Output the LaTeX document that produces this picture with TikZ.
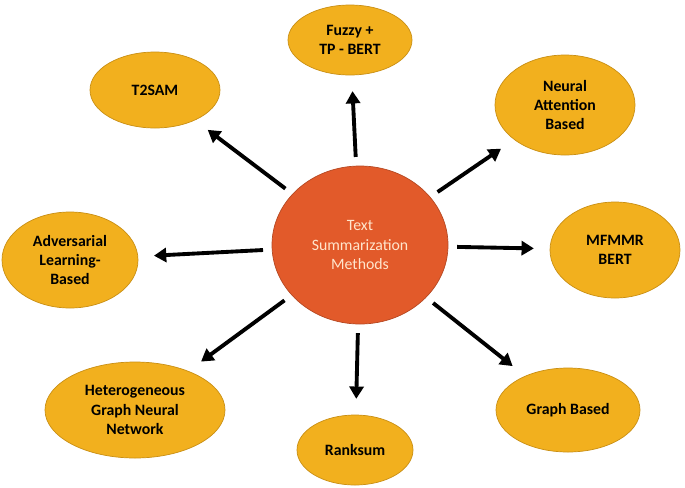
\documentclass[tikz,border=0pt]{standalone}
\usepackage{fontspec}
\setmainfont{Carlito}
\usetikzlibrary{shapes.geometric, arrows.meta}
\definecolor{gold}{HTML}{F2B01E}
\definecolor{goldline}{HTML}{C98F14}
\definecolor{redorange}{HTML}{E25A2A}
\begin{document}
\begin{tikzpicture}[x = 0.02cm, y = -0.02cm, > = {Triangle[length = 7pt, width = 8pt]},
	method/.style = {ellipse, draw = goldline, fill = gold, align = center, font = \bfseries\small, inner sep = 0pt},
	link/.style = {->, line width = 2.2pt, shorten < = 5pt, shorten > = 9pt}]

	\useasboundingbox (0, 0) rectangle (685, 487);

	% Central topic

	\node[ellipse, draw = redorange!80!black, fill = redorange, text = orange!20, align = center, minimum width = 176*0.02cm, minimum height = 158*0.02cm, font = \small] (text) at (360, 245) {Text\\ Summarization\\ Methods};

	% Methods around it

	\node[method, minimum width = 124*0.02cm, minimum height = 70*0.02cm] (fuzzy) at (350, 40) {Fuzzy +\\ TP - BERT};
	\node[method, minimum width = 130*0.02cm, minimum height = 76*0.02cm] (t2sam) at (155, 90) {T2SAM};
	\node[method, minimum width = 140*0.02cm, minimum height = 100*0.02cm] (neural) at (565, 105) {Neural\\ Attention\\ Based};
	\node[method, minimum width = 136*0.02cm, minimum height = 96*0.02cm] (adv) at (70, 260) {Adversarial\\ Learning-\\ Based};
	\node[method, minimum width = 130*0.02cm, minimum height = 96*0.02cm] (mfmmr) at (615, 250) {MFMMR\\ BERT};
	\node[method, minimum width = 180*0.02cm, minimum height = 96*0.02cm] (hetero) at (135, 410) {Heterogeneous\\ Graph Neural\\ Network};
	\node[method, minimum width = 116*0.02cm, minimum height = 70*0.02cm] (rank) at (355, 450) {Ranksum};
	\node[method, minimum width = 144*0.02cm, minimum height = 84*0.02cm] (graph) at (568, 410) {Graph Based};

	% Arrows

	\foreach \m in {fuzzy, t2sam, neural, adv, mfmmr, hetero, rank, graph}
		\draw[link] (text) -- (\m);

\end{tikzpicture}
\end{document}
